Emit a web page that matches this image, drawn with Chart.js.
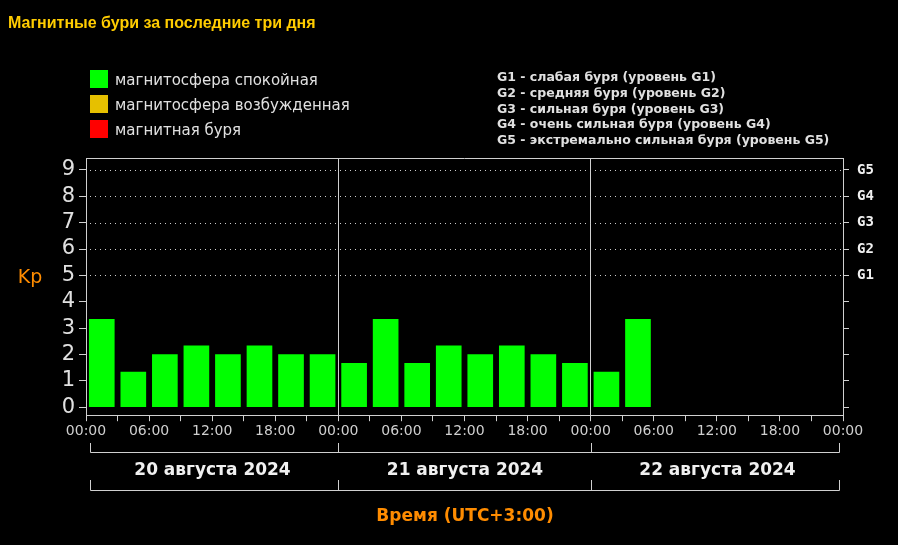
<!DOCTYPE html><html><head><meta charset="utf-8">
<script src="https://cdn.jsdelivr.net/npm/chart.js@4"></script>
<style>html,body{margin:0;background:#000;}#w{width:898px;height:545px;position:relative}</style></head><body>
<div id="w"><canvas id="c"></canvas></div>
<script>
const title = "Магнитные бури за последние три дня";
const hours = [1.5,4.5,7.5,10.5,13.5,16.5,19.5,22.5,25.5,28.5,31.5,34.5,37.5,40.5,43.5,46.5,49.5,52.5];
const kp = [3.33,1.33,2,2.33,2,2.33,2,2, 1.67,3.33,1.67,2.33,2,2.33,2,1.67, 1.33,3.33];
const dayLabels = ["20 августа 2024","21 августа 2024","22 августа 2024"];
const gLabels = {5:"G1",6:"G2",7:"G3",8:"G4",9:"G5"};
const legendLeft = [["#00ff00","магнитосфера спокойная"],["#e6c000","магнитосфера возбужденная"],["#ff0000","магнитная буря"]];
const legendRight = ["G1 - слабая буря (уровень G1)","G2 - средняя буря (уровень G2)","G3 - сильная буря (уровень G3)","G4 - очень сильная буря (уровень G4)","G5 - экстремально сильная буря (уровень G5)"];
const FR="#d0d0d0";
const dots={id:'dots',beforeDatasetsDraw(ch){
 const c=ch.ctx,y=ch.scales.y,a=ch.chartArea;c.save();c.fillStyle="#cccccc";
 for(let v=5;v<=9;v++){const py=Math.round(y.getPixelForValue(v));for(let px=a.left+4;px<a.right;px+=5)c.fillRect(px,py,1,1);}
 c.restore();}};
const deco={id:'deco',afterDraw(ch){
 const c=ch.ctx,x=ch.scales.x,a=ch.chartArea;c.save();
 c.fillStyle="#ffcc00";c.font="bold 16px 'Liberation Sans',Arial";c.textBaseline="alphabetic";c.fillText(title,8,28);
 c.font="15px 'DejaVu Sans'";
 legendLeft.forEach((l,i)=>{c.fillStyle=l[0];c.fillRect(90,70+i*25,18,18);c.fillStyle="#e0e0e0";c.fillText(l[1],115,85+i*25);});
 c.font="bold 12.5px 'DejaVu Sans'";
 legendRight.forEach((t,i)=>{c.fillText(t,497,81+i*15.8);});
 c.strokeStyle=FR;c.lineWidth=1;c.beginPath();c.moveTo(a.left,a.top+0.5);c.lineTo(a.right,a.top+0.5);c.stroke();
 const px=[0,24,48,72].map(v=>Math.round(x.getPixelForValue(v))+0.5);
 c.beginPath();c.moveTo(px[0]+4,452.5);c.lineTo(px[3]-4,452.5);
 c.moveTo(px[0]+4,490.5);c.lineTo(px[3]-4,490.5);
 px.forEach((p,i)=>{const q=i==0?p+4:i==3?p-4:p;c.moveTo(q,443);c.lineTo(q,452.5);c.moveTo(q,480);c.lineTo(q,490.5);});
 c.stroke();
 c.fillStyle="#f0f0f0";c.font="bold 17px 'DejaVu Sans'";c.textAlign="center";
 dayLabels.forEach((d,i)=>c.fillText(d,(px[i]+px[i+1])/2,475));
 c.fillStyle="#ff8c00";c.font="bold 17px 'DejaVu Sans'";c.fillText("Время (UTC+3:00)",(px[0]+px[3])/2,521);
 c.font="19px 'DejaVu Sans'";c.fillText("Kp",30,283);
 c.restore();}};
new Chart(document.getElementById('c'),{type:'bar',
 data:{datasets:[{data:hours.map((h,i)=>({x:h,y:kp[i]})),backgroundColor:"#00ff00",barThickness:25}]},
 plugins:[dots,deco],
 options:{responsive:true,maintainAspectRatio:false,animation:false,
  layout:{padding:{top:158,left:0,right:0,bottom:103}},
  plugins:{legend:{display:false},tooltip:{enabled:false}},
  scales:{
   x:{type:'linear',offset:false,min:0,max:72,afterBuildTicks:s=>{s.ticks=[];for(let v=0;v<=72;v+=3)s.ticks.push({value:v});},
    border:{color:FR},
    grid:{offset:false,color:c=>(c.tick&&(c.tick.value==24||c.tick.value==48))?FR:'rgba(0,0,0,0)',tickColor:FR,tickLength:6},
    ticks:{color:"#cfcfcf",font:{size:14,family:"'DejaVu Sans'"},maxRotation:0,autoSkip:false,padding:2,
     callback:v=>v%6==0?String(v%24==0?0:v%24).padStart(2,'0')+":00":""}},
   y:{min:-0.3,max:9.45,afterBuildTicks:s=>{s.ticks=[];for(let v=0;v<=9;v++)s.ticks.push({value:v});},
    afterFit:s=>{s.width=86;},border:{color:FR},
    grid:{drawOnChartArea:false,tickColor:FR,tickLength:7},
    ticks:{color:"#e0e0e0",font:{size:21,family:"'DejaVu Sans'"},padding:4}},
   y2:{position:'right',min:-0.3,max:9.45,afterBuildTicks:s=>{s.ticks=[];for(let v=0;v<=9;v++)s.ticks.push({value:v});},
    afterFit:s=>{s.width=55;},border:{color:FR},
    grid:{drawOnChartArea:false,tickColor:FR,tickLength:6},
    ticks:{color:"#f0f0f0",font:{size:14,weight:'bold',family:"'DejaVu Sans Mono'"},padding:8,callback:v=>gLabels[v]||""}}
  }}});
</script></body></html>
